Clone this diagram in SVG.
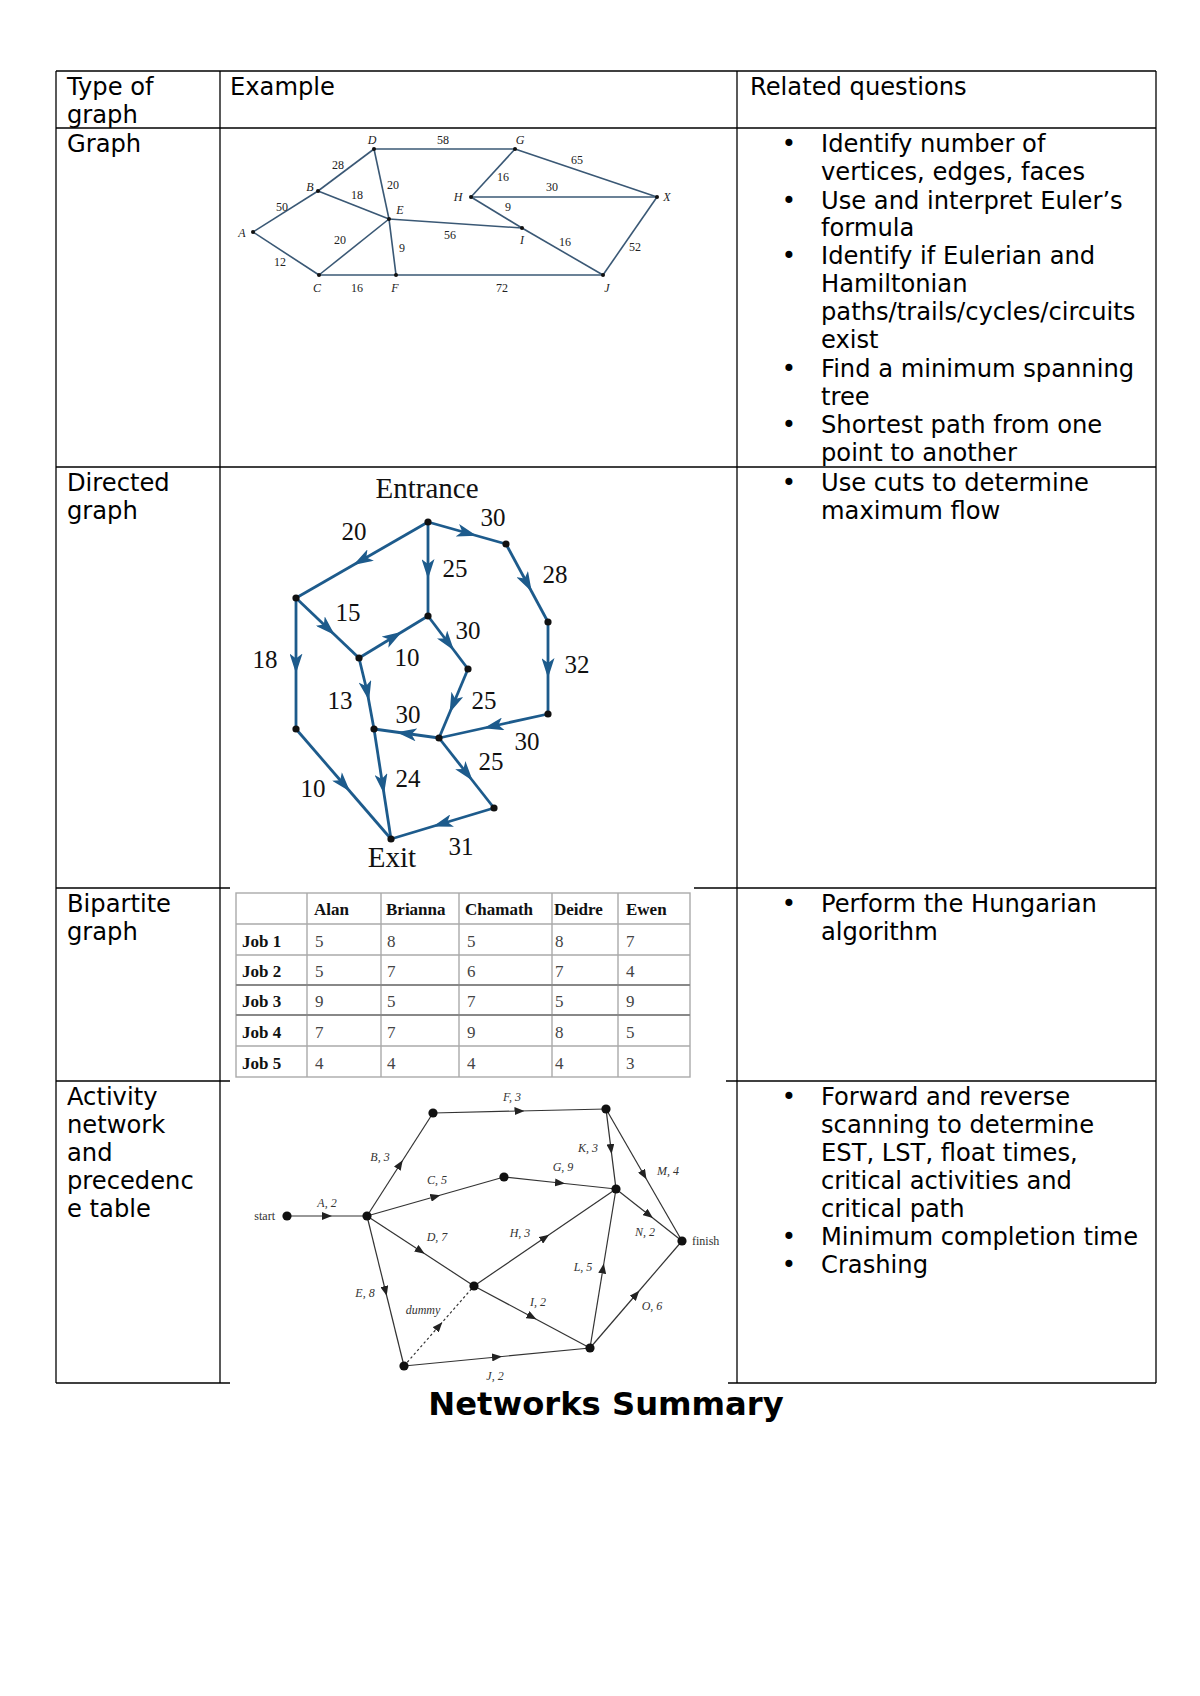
<svg xmlns="http://www.w3.org/2000/svg" width="1200" height="1696" viewBox="0 0 1200 1696">
<style>
.t{font-family:"DejaVu Sans",sans-serif;font-size:24.2px;fill:#000}
.b{font-family:"DejaVu Sans",sans-serif;font-size:24.2px;fill:#000;text-anchor:middle}
.tl{stroke:#000;stroke-width:1.3;fill:none}
.g1{stroke:#3a5875;stroke-width:1.6;fill:none}
.g1t{font-family:"Liberation Serif",serif;font-size:12px;fill:#222;text-anchor:middle}
.g1i{font-style:italic}
.dg{stroke:#1d5b8c;stroke-width:2.8;fill:none;marker-mid:url(#ad)}
.dgt{font-family:"Liberation Serif",serif;font-size:25px;fill:#111;text-anchor:middle}
.bt{stroke:#aaa;stroke-width:1.4;fill:none}
.bh{font-family:"Liberation Serif",serif;font-size:17px;font-weight:bold;fill:#111}
.bv{font-family:"Liberation Serif",serif;font-size:17px;fill:#444}
.an{stroke:#333;stroke-width:1.2;fill:none;marker-mid:url(#aa)}
.at{font-family:"Liberation Serif",serif;font-size:12px;font-style:italic;fill:#333;text-anchor:middle}
.ar{font-family:"Liberation Serif",serif;font-size:12px;fill:#333}
</style>
<defs>
<marker id="ad" markerUnits="userSpaceOnUse" viewBox="0 0 20 13" refX="10" refY="6.5" markerWidth="20" markerHeight="13" orient="auto"><path d="M0,0 L20,6.5 L0,13 L5,6.5 Z" fill="#1d5b8c"/></marker>
<marker id="aa" markerUnits="userSpaceOnUse" viewBox="0 0 10 8" refX="5" refY="4" markerWidth="10" markerHeight="8" orient="auto"><path d="M0,0 L10,4 L0,8 Z" fill="#222"/></marker>
</defs>
<rect width="1200" height="1696" fill="#fff"/>

<g id="table">
<line class="tl" x1="56" y1="71" x2="1156" y2="71"/>
<line class="tl" x1="56" y1="128" x2="1156" y2="128"/>
<line class="tl" x1="56" y1="467" x2="1156" y2="467"/>
<line class="tl" x1="56" y1="888" x2="230" y2="888"/>
<line class="tl" x1="694" y1="888" x2="1156" y2="888"/>
<line class="tl" x1="56" y1="1081" x2="230" y2="1081"/>
<line class="tl" x1="726" y1="1081" x2="1156" y2="1081"/>
<line class="tl" x1="56" y1="1383" x2="230" y2="1383"/>
<line class="tl" x1="728" y1="1383" x2="1156" y2="1383"/>
<line class="tl" x1="56" y1="71" x2="56" y2="1383"/>
<line class="tl" x1="220" y1="71" x2="220" y2="1383"/>
<line class="tl" x1="737" y1="71" x2="737" y2="1383"/>
<line class="tl" x1="1156" y1="71" x2="1156" y2="1383"/>
</g>

<g id="header">
<text class="t" x="67" y="95">Type of</text>
<text class="t" x="67" y="123">graph</text>
<text class="t" x="230" y="95">Example</text>
<text class="t" x="750" y="95">Related questions</text>
</g>

<g id="row-labels">
<text class="t" x="67" y="152">Graph</text>
<text class="t" x="67" y="491">Directed</text>
<text class="t" x="67" y="519">graph</text>
<text class="t" x="67" y="912">Bipartite</text>
<text class="t" x="67" y="940">graph</text>
<text class="t" x="67" y="1105">Activity</text>
<text class="t" x="67" y="1133">network</text>
<text class="t" x="67" y="1161">and</text>
<text class="t" x="67" y="1189">precedenc</text>
<text class="t" x="67" y="1217">e table</text>
</g>

<g id="questions">
<text class="b" x="789" y="152">•</text>
<text class="t" x="821" y="152">Identify number of</text>
<text class="t" x="821" y="180">vertices, edges, faces</text>
<text class="b" x="789" y="209">•</text>
<text class="t" x="821" y="209">Use and interpret Euler’s</text>
<text class="t" x="821" y="236">formula</text>
<text class="b" x="789" y="264">•</text>
<text class="t" x="821" y="264">Identify if Eulerian and</text>
<text class="t" x="821" y="292">Hamiltonian</text>
<text class="t" x="821" y="320">paths/trails/cycles/circuits</text>
<text class="t" x="821" y="348">exist</text>
<text class="b" x="789" y="377">•</text>
<text class="t" x="821" y="377">Find a minimum spanning</text>
<text class="t" x="821" y="405">tree</text>
<text class="b" x="789" y="433">•</text>
<text class="t" x="821" y="433">Shortest path from one</text>
<text class="t" x="821" y="461">point to another</text>
<text class="b" x="789" y="491">•</text>
<text class="t" x="821" y="491">Use cuts to determine</text>
<text class="t" x="821" y="519">maximum flow</text>
<text class="b" x="789" y="912">•</text>
<text class="t" x="821" y="912">Perform the Hungarian</text>
<text class="t" x="821" y="940">algorithm</text>
<text class="b" x="789" y="1105">•</text>
<text class="t" x="821" y="1105">Forward and reverse</text>
<text class="t" x="821" y="1133">scanning to determine</text>
<text class="t" x="821" y="1161">EST, LST, float times,</text>
<text class="t" x="821" y="1189">critical activities and</text>
<text class="t" x="821" y="1217">critical path</text>
<text class="b" x="789" y="1245">•</text>
<text class="t" x="821" y="1245">Minimum completion time</text>
<text class="b" x="789" y="1273">•</text>
<text class="t" x="821" y="1273">Crashing</text>
</g>

<g id="graph1">
<g id="graph1-edges">
<line class="g1" x1="374" y1="149" x2="515" y2="149"/>
<line class="g1" x1="374" y1="149" x2="318" y2="191"/>
<line class="g1" x1="318" y1="191" x2="253" y2="232"/>
<line class="g1" x1="253" y1="232" x2="319" y2="275"/>
<line class="g1" x1="318" y1="191" x2="389" y2="219"/>
<line class="g1" x1="374" y1="149" x2="389" y2="219"/>
<line class="g1" x1="389" y1="219" x2="396" y2="275"/>
<line class="g1" x1="319" y1="275" x2="389" y2="219"/>
<line class="g1" x1="389" y1="219" x2="522" y2="228"/>
<line class="g1" x1="471" y1="197" x2="522" y2="228"/>
<line class="g1" x1="522" y1="228" x2="603" y2="275"/>
<line class="g1" x1="515" y1="149" x2="471" y2="197"/>
<line class="g1" x1="471" y1="197" x2="657" y2="197"/>
<line class="g1" x1="515" y1="149" x2="657" y2="197"/>
<line class="g1" x1="657" y1="197" x2="603" y2="275"/>
<line class="g1" x1="319" y1="275" x2="603" y2="275"/>
</g>
<g id="graph1-nodes" fill="#111">
<circle cx="374" cy="149" r="2"/><circle cx="515" cy="149" r="2"/><circle cx="318" cy="191" r="2"/>
<circle cx="471" cy="197" r="2"/><circle cx="657" cy="197" r="2"/><circle cx="389" cy="219" r="2"/>
<circle cx="253" cy="232" r="2"/><circle cx="522" cy="228" r="2"/><circle cx="319" cy="275" r="2"/>
<circle cx="396" cy="275" r="2"/><circle cx="603" cy="275" r="2"/>
</g>
<g id="graph1-labels">
<text class="g1t g1i" x="372" y="144">D</text>
<text class="g1t" x="443" y="144">58</text>
<text class="g1t g1i" x="520" y="144">G</text>
<text class="g1t" x="577" y="164">65</text>
<text class="g1t" x="338" y="169">28</text>
<text class="g1t" x="393" y="189">20</text>
<text class="g1t" x="503" y="181">16</text>
<text class="g1t" x="552" y="191">30</text>
<text class="g1t g1i" x="310" y="191">B</text>
<text class="g1t" x="357" y="199">18</text>
<text class="g1t g1i" x="458" y="201">H</text>
<text class="g1t g1i" x="667" y="201">X</text>
<text class="g1t" x="282" y="211">50</text>
<text class="g1t g1i" x="400" y="214">E</text>
<text class="g1t" x="508" y="211">9</text>
<text class="g1t g1i" x="242" y="237">A</text>
<text class="g1t" x="340" y="244">20</text>
<text class="g1t" x="450" y="239">56</text>
<text class="g1t g1i" x="522" y="244">I</text>
<text class="g1t" x="565" y="246">16</text>
<text class="g1t" x="402" y="252">9</text>
<text class="g1t" x="635" y="251">52</text>
<text class="g1t" x="280" y="266">12</text>
<text class="g1t g1i" x="317" y="292">C</text>
<text class="g1t" x="357" y="292">16</text>
<text class="g1t g1i" x="395" y="292">F</text>
<text class="g1t" x="502" y="292">72</text>
<text class="g1t g1i" x="607" y="292">J</text>
</g>
</g>

<g id="digraph">
<g id="digraph-edges">
<path class="dg" d="M428,522 L362,560 L296,598"/>
<path class="dg" d="M428,522 L428,569 L428,616"/>
<path class="dg" d="M428,522 L467,533 L506,544"/>
<path class="dg" d="M506,544 L527,583 L548,622"/>
<path class="dg" d="M296,598 L327.5,628 L359,658"/>
<path class="dg" d="M296,598 L296,663.5 L296,729"/>
<path class="dg" d="M359,658 L393.5,637 L428,616"/>
<path class="dg" d="M428,616 L448,642.5 L468,669"/>
<path class="dg" d="M548,622 L548,668 L548,714"/>
<path class="dg" d="M359,658 L367,691 L374,729"/>
<path class="dg" d="M468,669 L453.5,703.5 L439,738"/>
<path class="dg" d="M548,714 L493.5,726 L439,738"/>
<path class="dg" d="M439,738 L406.5,733.5 L374,729"/>
<path class="dg" d="M374,729 L382.5,784 L391,839"/>
<path class="dg" d="M296,729 L343.5,784 L391,839"/>
<path class="dg" d="M439,738 L466.5,773 L494,808"/>
<path class="dg" d="M494,808 L442.5,823.5 L391,839"/>
</g>
<g id="digraph-nodes" fill="#111">
<circle cx="428" cy="522" r="3.6"/><circle cx="506" cy="544" r="3.6"/><circle cx="296" cy="598" r="3.6"/>
<circle cx="428" cy="616" r="3.6"/><circle cx="548" cy="622" r="3.6"/><circle cx="359" cy="658" r="3.6"/>
<circle cx="468" cy="669" r="3.6"/><circle cx="548" cy="714" r="3.6"/><circle cx="296" cy="729" r="3.6"/>
<circle cx="374" cy="729" r="3.6"/><circle cx="439" cy="738" r="3.6"/><circle cx="494" cy="808" r="3.6"/>
<circle cx="391" cy="839" r="3.6"/>
</g>
<g id="digraph-labels">
<text class="dgt" x="427" y="498" style="font-size:29px">Entrance</text>
<text class="dgt" x="392" y="867" style="font-size:29px">Exit</text>
<text class="dgt" x="354" y="540">20</text>
<text class="dgt" x="493" y="526">30</text>
<text class="dgt" x="455" y="577">25</text>
<text class="dgt" x="555" y="583">28</text>
<text class="dgt" x="348" y="621">15</text>
<text class="dgt" x="468" y="639">30</text>
<text class="dgt" x="265" y="668">18</text>
<text class="dgt" x="407" y="666">10</text>
<text class="dgt" x="577" y="673">32</text>
<text class="dgt" x="340" y="709">13</text>
<text class="dgt" x="484" y="709">25</text>
<text class="dgt" x="408" y="723">30</text>
<text class="dgt" x="527" y="750">30</text>
<text class="dgt" x="491" y="770">25</text>
<text class="dgt" x="408" y="787">24</text>
<text class="dgt" x="313" y="797">10</text>
<text class="dgt" x="461" y="855">31</text>
</g>
</g>

<g id="bipartite">
<g id="bipartite-grid">
<rect class="bt" x="236" y="893" width="454" height="184"/>
<line class="bt" x1="307" y1="893" x2="307" y2="1077"/>
<line class="bt" x1="381" y1="893" x2="381" y2="1077"/>
<line class="bt" x1="459" y1="893" x2="459" y2="1077"/>
<line class="bt" x1="552" y1="893" x2="552" y2="1077"/>
<line class="bt" x1="618" y1="893" x2="618" y2="1077"/>
<line class="bt" x1="236" y1="924" x2="690" y2="924"/>
<line class="bt" x1="236" y1="955" x2="690" y2="955"/>
<line class="bt" x1="236" y1="985" x2="690" y2="985" style="stroke:#888;stroke-width:1.8"/>
<line class="bt" x1="236" y1="1015" x2="690" y2="1015" style="stroke:#888;stroke-width:1.8"/>
<line class="bt" x1="236" y1="1046" x2="690" y2="1046"/>
</g>
<g id="bipartite-text">
<text class="bh" x="314" y="915">Alan</text>
<text class="bh" x="386" y="915">Brianna</text>
<text class="bh" x="465" y="915">Chamath</text>
<text class="bh" x="554" y="915">Deidre</text>
<text class="bh" x="626" y="915">Ewen</text>
<text class="bh" x="242" y="947">Job 1</text>
<text class="bh" x="242" y="977">Job 2</text>
<text class="bh" x="242" y="1007">Job 3</text>
<text class="bh" x="242" y="1038">Job 4</text>
<text class="bh" x="242" y="1069">Job 5</text>
<text class="bv" y="947"><tspan x="315">5</tspan><tspan x="387">8</tspan><tspan x="467">5</tspan><tspan x="555">8</tspan><tspan x="626">7</tspan></text>
<text class="bv" y="977"><tspan x="315">5</tspan><tspan x="387">7</tspan><tspan x="467">6</tspan><tspan x="555">7</tspan><tspan x="626">4</tspan></text>
<text class="bv" y="1007"><tspan x="315">9</tspan><tspan x="387">5</tspan><tspan x="467">7</tspan><tspan x="555">5</tspan><tspan x="626">9</tspan></text>
<text class="bv" y="1038"><tspan x="315">7</tspan><tspan x="387">7</tspan><tspan x="467">9</tspan><tspan x="555">8</tspan><tspan x="626">5</tspan></text>
<text class="bv" y="1069"><tspan x="315">4</tspan><tspan x="387">4</tspan><tspan x="467">4</tspan><tspan x="555">4</tspan><tspan x="626">3</tspan></text>
</g>
</g>

<g id="activity">
<g id="activity-edges">
<path class="an" d="M287,1216 L327,1216 L367,1216"/>
<path class="an" d="M367,1216 L400,1164.5 L433,1113"/>
<path class="an" d="M433,1113 L519.5,1111 L606,1109"/>
<path class="an" d="M367,1216 L435.5,1196.5 L504,1177"/>
<path class="an" d="M504,1177 L560,1183 L616,1189"/>
<path class="an" d="M606,1109 L611,1149 L616,1189"/>
<path class="an" d="M606,1109 L644,1175 L682,1241"/>
<path class="an" d="M616,1189 L649,1215 L682,1241"/>
<path class="an" d="M367,1216 L420.5,1251 L474,1286"/>
<path class="an" d="M367,1216 L385.5,1291 L404,1366"/>
<path class="an" d="M474,1286 L545,1237.5 L616,1189"/>
<path class="an" d="M474,1286 L532,1317 L590,1348"/>
<path class="an" d="M404,1366 L439,1326 L474,1286" style="stroke-dasharray:2.5,2.5"/>
<path class="an" d="M404,1366 L497,1357 L590,1348"/>
<path class="an" d="M590,1348 L603,1268.5 L616,1189"/>
<path class="an" d="M590,1348 L636,1294.5 L682,1241"/>
</g>
<g id="activity-nodes" fill="#111">
<circle cx="287" cy="1216" r="4.6"/><circle cx="367" cy="1216" r="4.6"/><circle cx="433" cy="1113" r="4.6"/>
<circle cx="606" cy="1109" r="4.6"/><circle cx="504" cy="1177" r="4.6"/><circle cx="616" cy="1189" r="4.6"/>
<circle cx="682" cy="1241" r="4.6"/><circle cx="474" cy="1286" r="4.6"/><circle cx="404" cy="1366" r="4.6"/>
<circle cx="590" cy="1348" r="4.6"/>
</g>
<g id="activity-labels">
<text class="ar" x="275" y="1220" text-anchor="end">start</text>
<text class="ar" x="692" y="1245">finish</text>
<text class="at" x="327" y="1207">A, 2</text>
<text class="at" x="380" y="1161">B, 3</text>
<text class="at" x="512" y="1101">F, 3</text>
<text class="at" x="437" y="1184">C, 5</text>
<text class="at" x="563" y="1171">G, 9</text>
<text class="at" x="588" y="1152">K, 3</text>
<text class="at" x="668" y="1175">M, 4</text>
<text class="at" x="437" y="1241">D, 7</text>
<text class="at" x="520" y="1237">H, 3</text>
<text class="at" x="645" y="1236">N, 2</text>
<text class="at" x="583" y="1271">L, 5</text>
<text class="at" x="365" y="1297">E, 8</text>
<text class="at" x="538" y="1306">I, 2</text>
<text class="at" x="652" y="1310">O, 6</text>
<text class="at" x="423" y="1314">dummy</text>
<text class="at" x="495" y="1380">J, 2</text>
</g>
</g>

<g id="title">
<text x="606" y="1415" text-anchor="middle" style="font-family:'DejaVu Sans',sans-serif;font-size:32.2px;font-weight:bold;fill:#000">Networks Summary</text>
</g>
</svg>
